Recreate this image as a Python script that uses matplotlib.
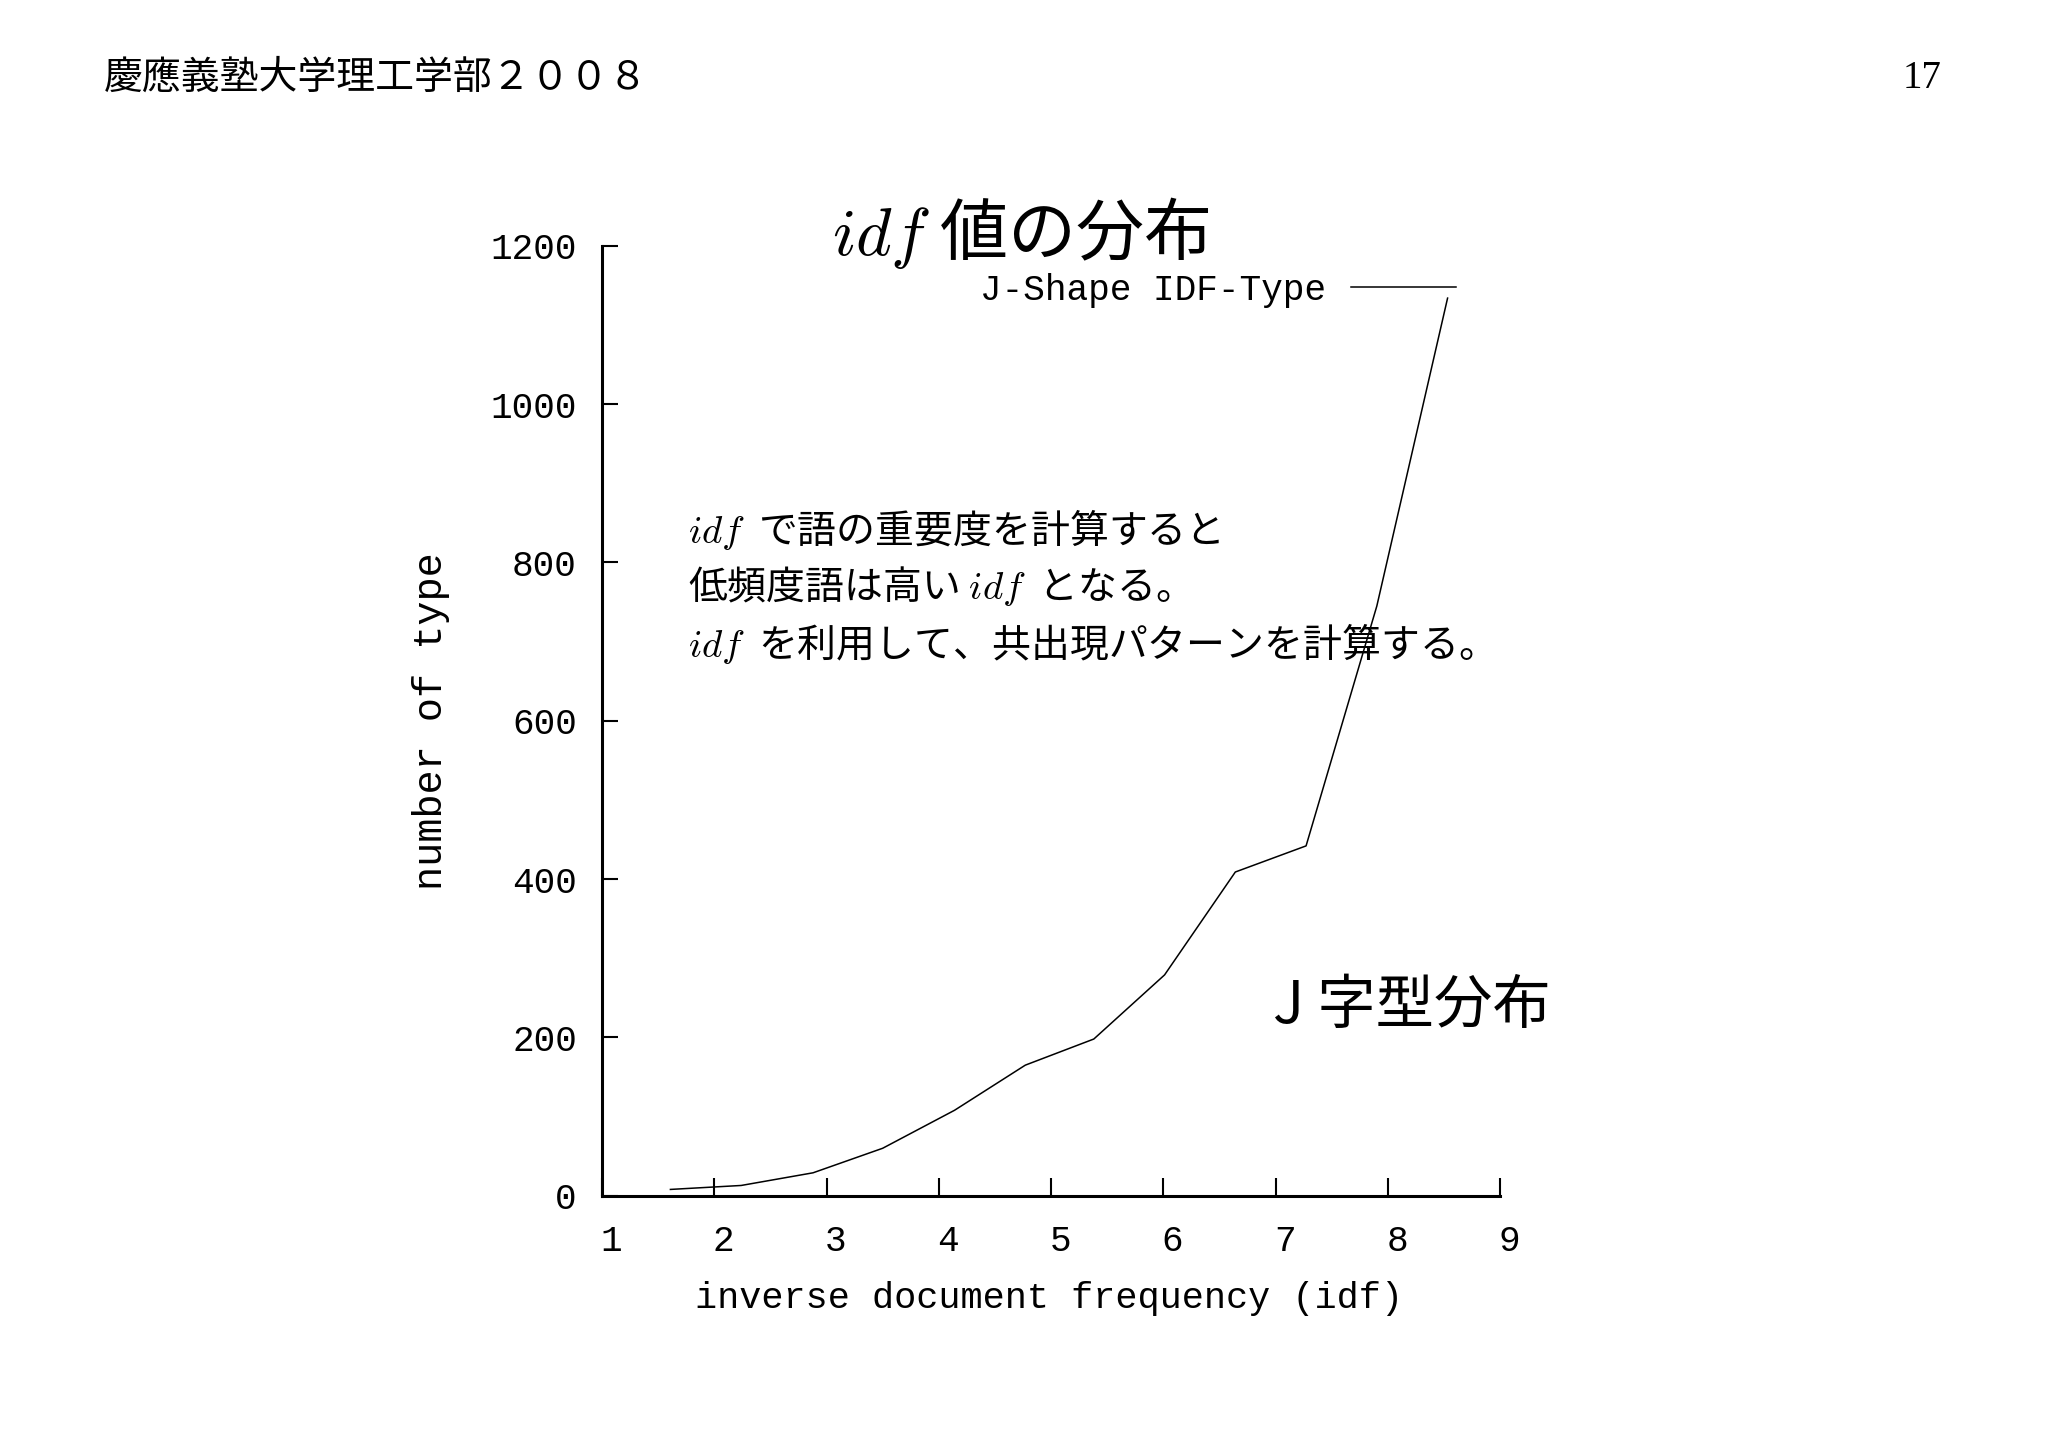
import matplotlib
matplotlib.use("Agg")
import matplotlib.pyplot as plt
import matplotlib.transforms as mtransforms

# idf distribution
idf = [1.61, 2.24, 2.88, 3.50, 4.14, 4.77, 5.38, 6.01, 6.64, 7.27, 7.90, 8.53]
n_type = [8, 13, 29, 60, 108, 165, 198, 279, 409, 442, 745, 1134]
xticks = [1, 2, 3, 4, 5, 6, 7, 8, 9]
yticks = [0, 200, 400, 600, 800, 1000, 1200]
series_name = "J-Shape IDF-Type"
note_lines = [
    "$idf$  で語の重要度を計算すると",
    "低頻度語は高い $idf$  となる。",
    "$idf$  を利用して、共出現パターンを計算する。",
]

plt.rcParams["mathtext.fontset"] = "cm"
mono = "Liberation Mono"
jp = "Noto Sans CJK JP"

fig = plt.figure(figsize=(20.48, 14.48), dpi=100)
ax = fig.add_axes([0.2939, 0.1742, 0.4387, 0.6560])

ax.plot(idf, n_type, color="black", lw=1.1, label=series_name)
ax.set_xlim(1, 9)
ax.set_ylim(0, 1200)
ax.set_xticks(xticks)
ax.set_yticks(yticks)
for s in ["top", "right"]:
    ax.spines[s].set_visible(False)
for s in ["left", "bottom"]:
    ax.spines[s].set_linewidth(2.2)
ax.tick_params(axis="x", direction="in", length=13, width=1.5, pad=20)
ax.tick_params(axis="y", direction="in", length=11.5, width=1.5, pad=18)
for lab in ax.get_xticklabels() + ax.get_yticklabels():
    lab.set_fontfamily(mono)
    lab.set_fontsize(26)
# gnuplot puts the x labels a bit to the right of their ticks
shift = mtransforms.ScaledTranslation(9 / 100, 0, fig.dpi_scale_trans)
for lab in ax.get_xticklabels():
    lab.set_transform(lab.get_transform() + shift)

fig.text(1049 / 2048, 1 - 1298 / 1448, "inverse document frequency (idf)",
         family=mono, fontsize=26.6, ha="center", va="center")
fig.text(431 / 2048, 1 - 721 / 1448, "number of type", family=mono,
         fontsize=29, rotation=90, ha="center", va="center")

ax.legend(loc="center right", bbox_to_anchor=(1456 / 2048, 1 - 290 / 1448),
          bbox_transform=fig.transFigure, frameon=False, markerfirst=False,
          handlelength=2.9, handletextpad=0.7, borderpad=0, borderaxespad=0,
          prop={"family": mono, "size": 26})

# slide decorations
fig.text(104 / 2048, 1 - 78 / 1448, "慶應義塾大学理工学部２００８",
         family=jp, fontsize=28, ha="left", va="center")
fig.text(1942 / 2048, 1 - 78 / 1448, "17", family="Liberation Serif",
         fontsize=28, ha="right", va="center")
fig.text(1021 / 2048, 1 - 233 / 1448, "$idf$ 値の分布", family=jp,
         fontsize=49, ha="center", va="center")
for i, line in enumerate(note_lines):
    fig.text(688 / 2048, 1 - (529 + 57 * i) / 1448, line, family=jp,
             fontsize=28, ha="left", va="center")
fig.text(1273 / 2048, 1 - 1007 / 1448, "J 字型分布", family=jp,
         fontsize=42, ha="left", va="center")

fig.savefig("out.png", dpi=100)
